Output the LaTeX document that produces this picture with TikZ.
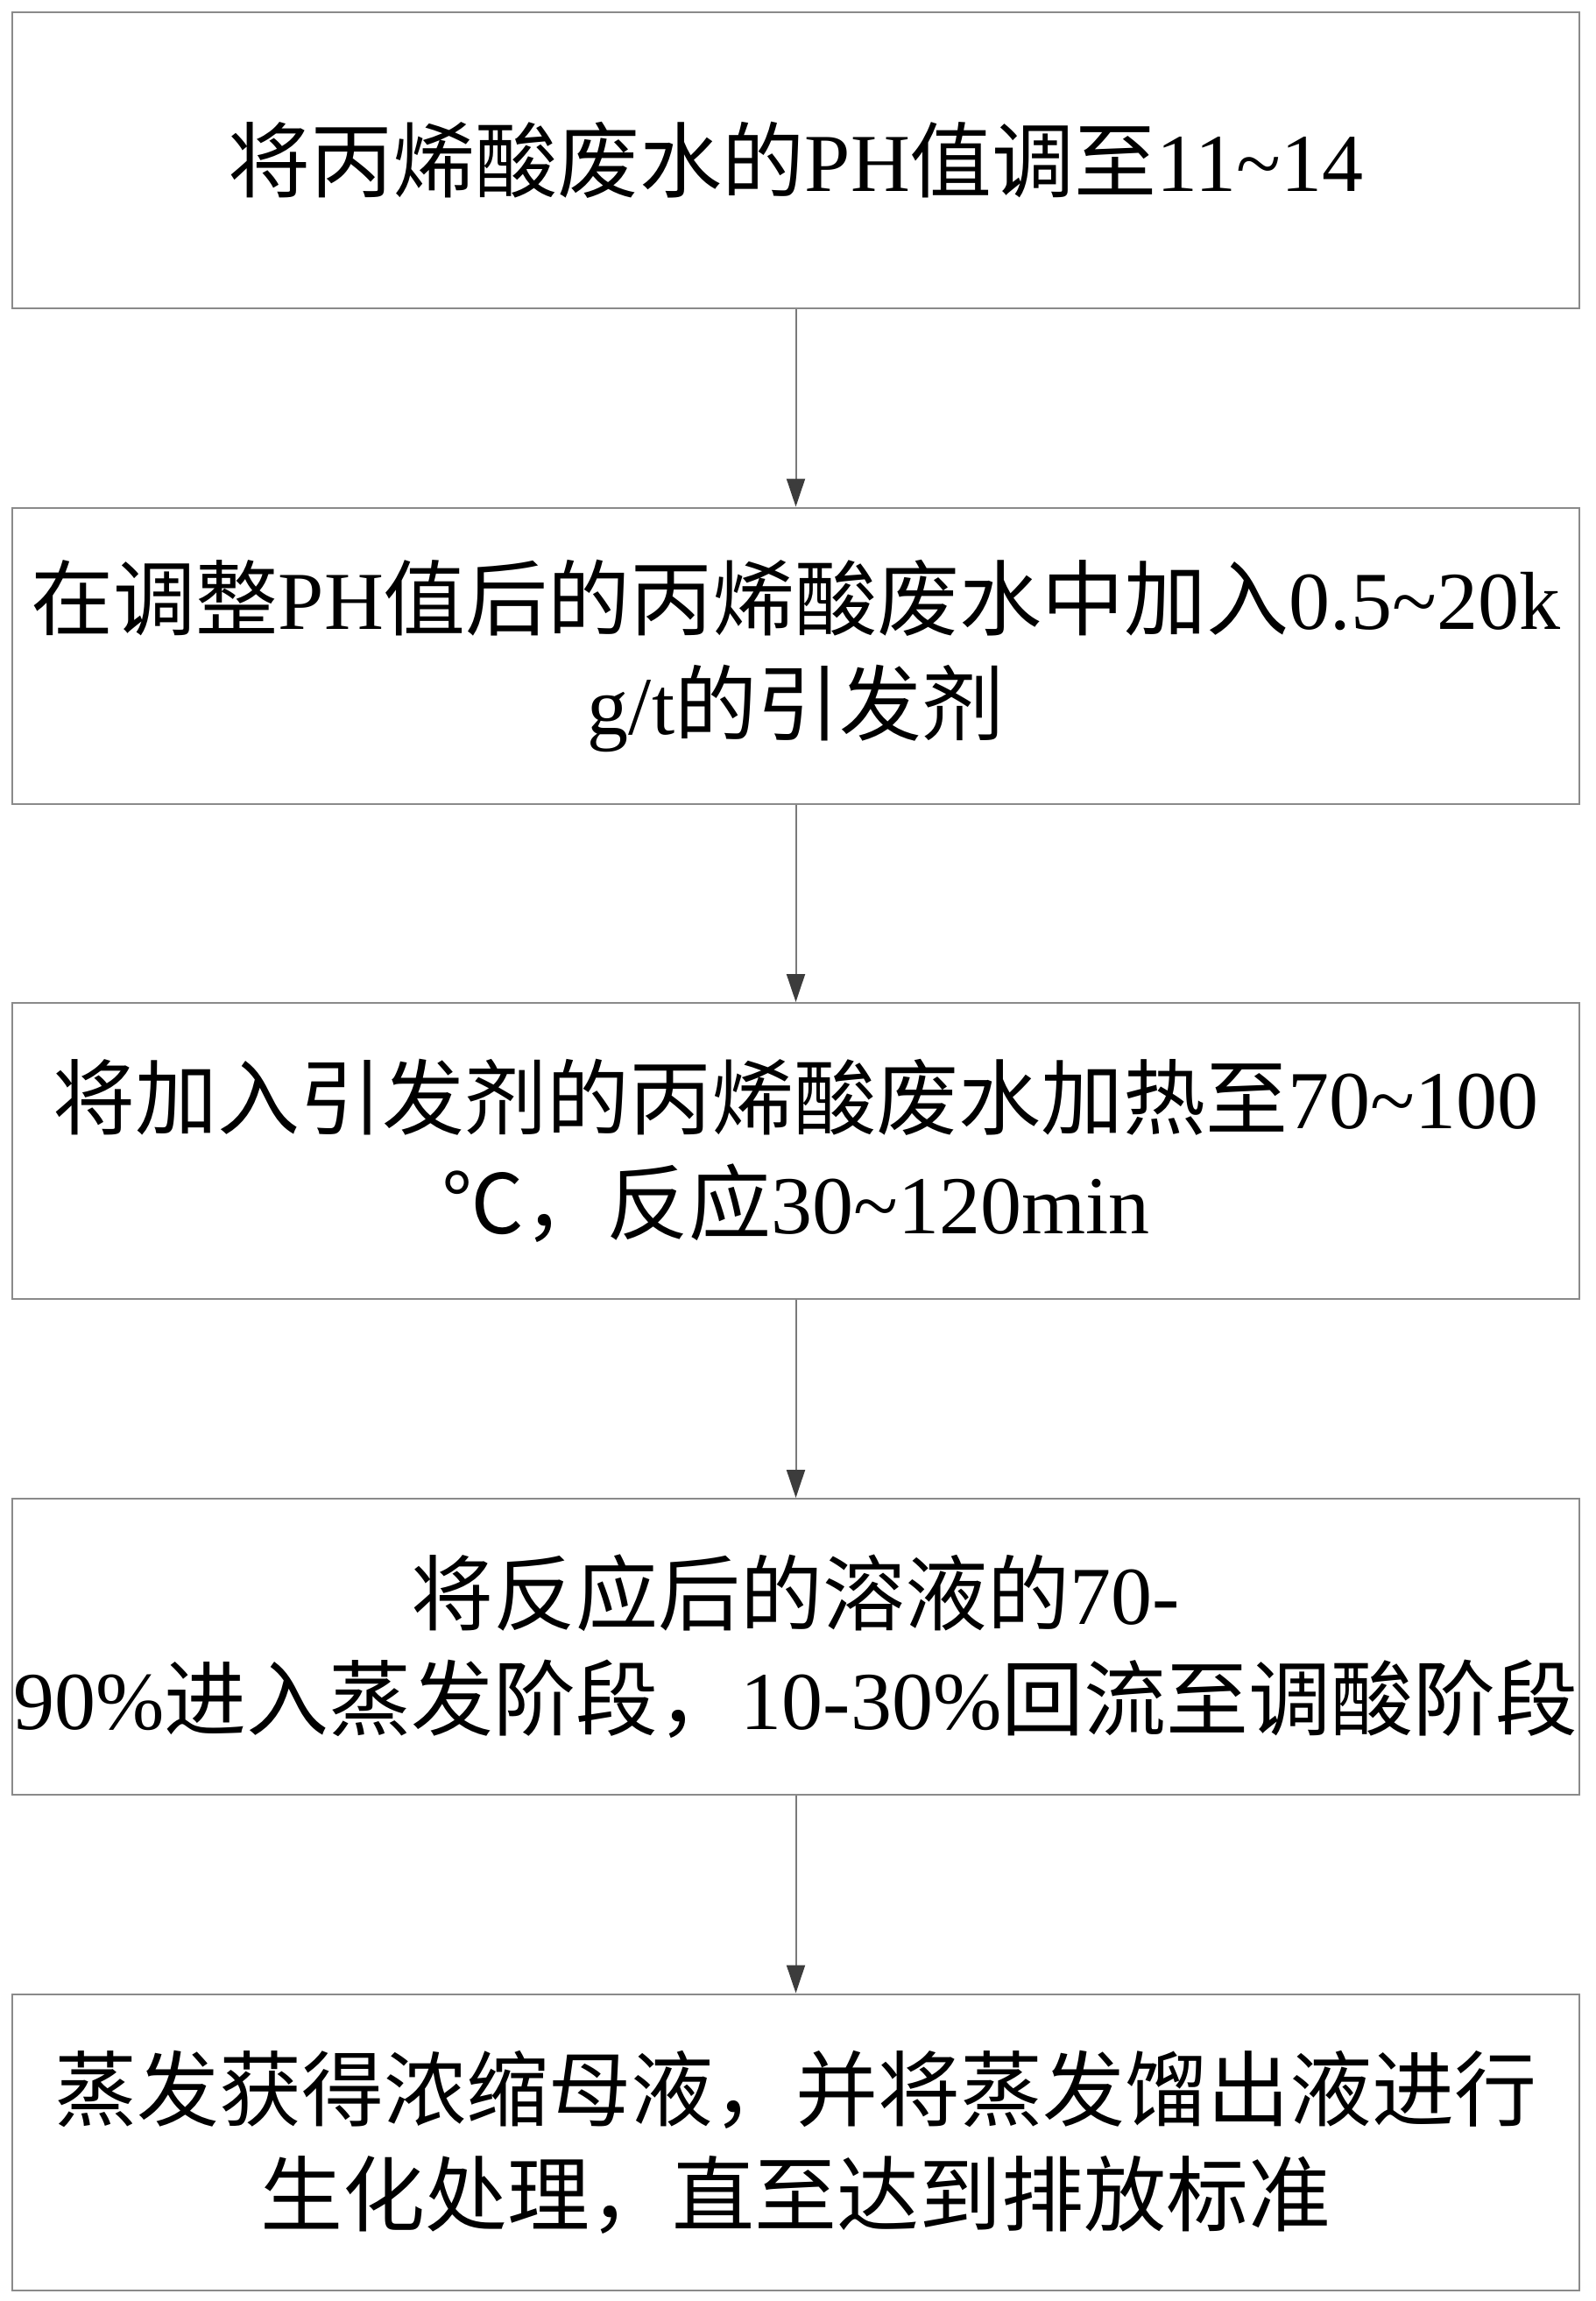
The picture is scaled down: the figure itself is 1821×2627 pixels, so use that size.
\documentclass[tikz,border=0pt]{standalone}
\usepackage{fontspec}
\setmainfont{Liberation Serif}
\newfontfamily\cjfont{Noto Sans CJK SC}
\newcommand\zh[1]{{\cjfont #1}}
\usetikzlibrary{arrows.meta}
\definecolor{boxline}{HTML}{8A8A8A}
\definecolor{arrline}{HTML}{7A7A7A}
\definecolor{arrhead}{HTML}{3C3C3C}
\begin{document}
\begin{tikzpicture}[x=1pt,y=-1pt,
  stepbox/.style={draw=boxline, line width=2pt, rectangle, minimum width=1789pt,
    minimum height=338pt, inner sep=0pt, align=center, text=black,
    font=\fontsize{94}{120}\selectfont},
  flow/.style={draw=arrline, line width=2pt,
    -{Triangle[width=21pt,length=32pt,color=arrhead]}}]
\useasboundingbox (0,0) rectangle (1821,2627);
\node[stepbox] (b1) at (908.5,183) {\zh{将丙烯酸废水的}PH\zh{值调至}11\char`~14};
\node[stepbox] (b2) at (908.5,748.5) {\zh{在调整}PH\zh{值后的丙烯酸废水中加入}0.5\char`~20k\\g/t\zh{的引发剂}};
\node[stepbox] (b3) at (908.5,1314) {\zh{将加入引发剂的丙烯酸废水加热至}70\char`~100\\\zh{℃，反应}30\char`~120min};
\node[stepbox] (b4) at (908.5,1880) {\zh{将反应后的溶液的}70-\\90\%\zh{进入蒸发阶段，}10-30\%\zh{回流至调酸阶段}};
\node[stepbox] (b5) at (908.5,2445.5) {\zh{蒸发获得浓缩母液，并将蒸发馏出液进行}\\\zh{生化处理，直至达到排放标准}};
\draw[flow] (b1.south) -- (b2.north);
\draw[flow] (b2.south) -- (b3.north);
\draw[flow] (b3.south) -- (b4.north);
\draw[flow] (b4.south) -- (b5.north);
\end{tikzpicture}
\end{document}
